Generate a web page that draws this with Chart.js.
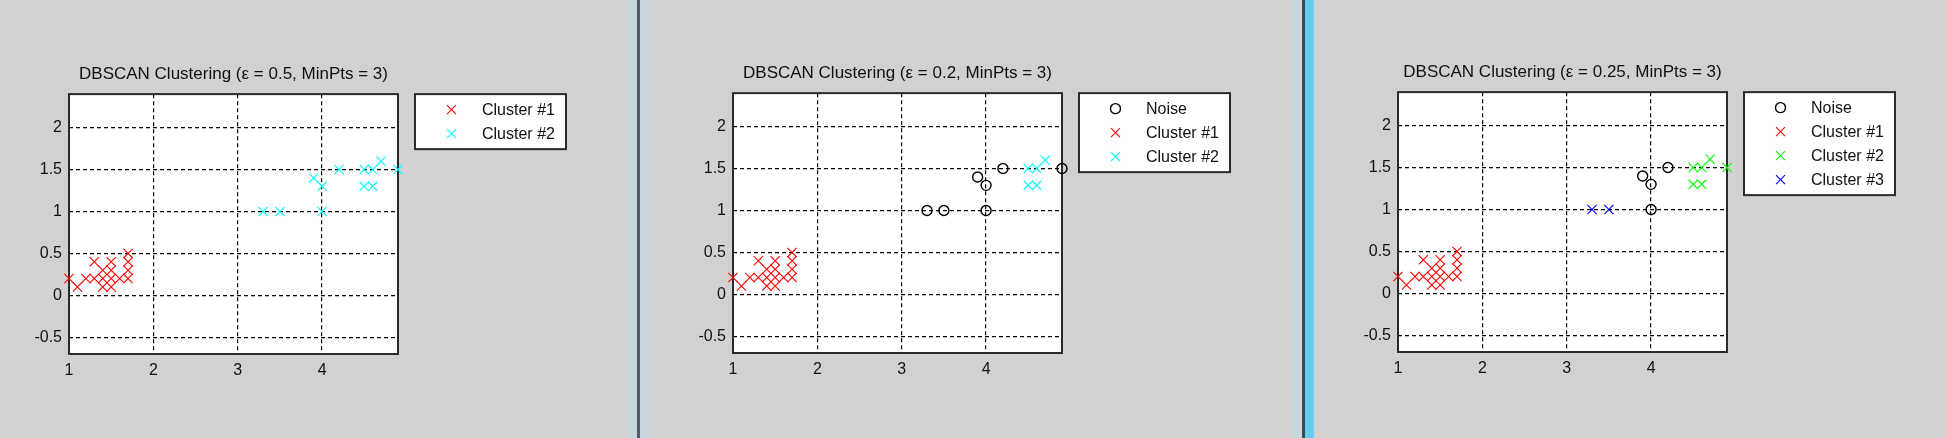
<!DOCTYPE html>
<html>
<head>
<meta charset="utf-8">
<script src="https://cdn.jsdelivr.net/npm/chart.js@4"></script>
<style>
  html, body { margin: 0; padding: 0; background: #d1d1d1; }
  body { width: 1945px; height: 438px; position: relative; overflow: hidden; }
  .panel { position: absolute; top: 0; height: 438px; }
  .sep { position: absolute; top: 0; height: 438px; }
</style>
</head>
<body>
<div class="sep" style="left:628px;width:22px;background:#c6d6dd"></div>
<div class="sep" style="left:637px;width:3px;background:#4d5a60"></div>
<div class="sep" style="left:1293px;width:21px;background:#c6d6dd"></div>
<div class="sep" style="left:1302px;width:3px;background:#3f4a50"></div>
<div class="sep" style="left:1305px;width:9px;background:#66ccf0"></div>

<div class="panel" style="left:0;width:628px"><canvas id="c1" width="628" height="438"></canvas></div>
<div class="panel" style="left:650px;width:643px"><canvas id="c2" width="643" height="438"></canvas></div>
<div class="panel" style="left:1314px;width:631px"><canvas id="c3" width="631" height="438"></canvas></div>

<script>
// axis ticks
const xTicks = [1, 2, 3, 4];
const yTicks = [-0.5, 0, 0.5, 1, 1.5, 2];

// cluster #1 is the same in every run
const c1X = [1.0, 1.1, 1.2, 1.3, 1.3, 1.4, 1.4, 1.4, 1.5, 1.5, 1.5, 1.5, 1.6, 1.7, 1.7, 1.7, 1.7];
const c1Y = [0.2, 0.1, 0.2, 0.4, 0.2, 0.3, 0.2, 0.1, 0.4, 0.3, 0.2, 0.1, 0.2, 0.5, 0.4, 0.3, 0.2];

// eps = 0.5
const p1Cluster2X = [3.3, 3.5, 4.0, 3.9, 4.0, 4.2, 4.5, 4.6, 4.7, 4.9, 4.5, 4.6];
const p1Cluster2Y = [1.0, 1.0, 1.0, 1.4, 1.3, 1.5, 1.5, 1.5, 1.6, 1.5, 1.3, 1.3];

// eps = 0.2
const p2NoiseX = [3.3, 3.5, 4.0, 3.9, 4.0, 4.2, 4.9];
const p2NoiseY = [1.0, 1.0, 1.0, 1.4, 1.3, 1.5, 1.5];
const p2Cluster2X = [4.5, 4.6, 4.7, 4.5, 4.6];
const p2Cluster2Y = [1.5, 1.5, 1.6, 1.3, 1.3];

// eps = 0.25
const p3NoiseX = [3.9, 4.0, 4.0, 4.2];
const p3NoiseY = [1.4, 1.3, 1.0, 1.5];
const p3Cluster2X = [4.5, 4.6, 4.7, 4.5, 4.6, 4.9];
const p3Cluster2Y = [1.5, 1.5, 1.6, 1.3, 1.3, 1.5];
const p3Cluster3X = [3.3, 3.5];
const p3Cluster3Y = [1.0, 1.0];

const epsValues = [0.5, 0.2, 0.25];
const minPts = 3;

const FONT = 'Arial, "Liberation Sans", sans-serif';
const pts = (xs, ys) => xs.map((x, i) => ({ x, y: ys[i] }));

function series(label, xs, ys, color, style) {
  const circle = style === 'circle';
  return {
    label,
    data: pts(xs, ys),
    pointStyle: style,
    radius: circle ? 5 : 6.5,
    borderColor: color,
    backgroundColor: 'transparent',
    borderWidth: circle ? 1.4 : 1.1,
    pointHoverRadius: 0,
    clip: false,
  };
}

// white axes box + frame, and a boxed legend to the right of the axes
const matlabAxes = {
  id: 'matlabAxes',
  beforeDraw(chart) {
    const { ctx, chartArea: a } = chart;
    ctx.save();
    ctx.fillStyle = '#fff';
    ctx.fillRect(a.left, a.top, a.right - a.left, a.bottom - a.top);
    ctx.restore();
  },
  beforeDatasetsDraw(chart) {
    const { ctx, chartArea: a } = chart;
    ctx.save();
    ctx.strokeStyle = '#2a2a2a';
    ctx.lineWidth = 2;
    ctx.strokeRect(a.left, a.top, a.right - a.left, a.bottom - a.top);
    ctx.restore();
  },
  afterDraw(chart) {
    const { ctx, chartArea: a } = chart;
    const sets = chart.data.datasets;
    const left = a.right + 17, top = a.top, w = 151, h = 24 * sets.length + 7;
    ctx.save();
    ctx.fillStyle = '#fff';
    ctx.fillRect(left, top, w, h);
    ctx.strokeStyle = '#2a2a2a';
    ctx.lineWidth = 2;
    ctx.strokeRect(left, top, w, h);
    ctx.font = '16px ' + FONT;
    ctx.textBaseline = 'middle';
    sets.forEach((ds, i) => {
      const cy = top + 15.5 + i * 24, cx = left + 36.5;
      ctx.strokeStyle = ds.borderColor;
      ctx.lineWidth = ds.borderWidth;
      ctx.beginPath();
      if (ds.pointStyle === 'circle') {
        ctx.arc(cx, cy, 5, 0, Math.PI * 2);
      } else {
        ctx.moveTo(cx - 4.5, cy - 4.5); ctx.lineTo(cx + 4.5, cy + 4.5);
        ctx.moveTo(cx + 4.5, cy - 4.5); ctx.lineTo(cx - 4.5, cy + 4.5);
      }
      ctx.stroke();
      ctx.fillStyle = '#111';
      ctx.fillText(ds.label, left + 67, cy + 1);
    });
    ctx.restore();
  }
};

function makeChart(id, eps, datasets, area, W) {
  const H = 438;
  new Chart(document.getElementById(id), {
    type: 'scatter',
    data: { datasets },
    plugins: [matlabAxes],
    options: {
      responsive: false,
      animation: false,
      events: [],
      layout: { padding: { left: area.left - 40, right: W - area.right, top: 0, bottom: H - area.bottom - 30 } },
      plugins: {
        legend: { display: false },
        tooltip: { enabled: false },
        title: {
          display: true,
          fullSize: false,
          text: 'DBSCAN Clustering (\u03b5 = ' + eps + ', MinPts = ' + minPts + ')',
          color: '#111',
          font: { family: FONT, size: 17, weight: 'normal', lineHeight: 1.125 },
          padding: { top: area.top - 29, bottom: 10 },
        },
      },
      scales: {
        x: {
          type: 'linear', min: 1, max: 4.9,
          afterBuildTicks: s => { s.ticks = xTicks.map(v => ({ value: v })); },
          afterFit: s => { s.height = 30; },
          grid: { color: '#000', lineWidth: 1.2, drawTicks: false },
          border: { display: false, dash: [4, 3] },
          ticks: { color: '#111', padding: 7, font: { family: FONT, size: 16 }, callback: v => String(v) },
        },
        y: {
          type: 'linear', min: -0.7, max: 2.4,
          afterBuildTicks: s => { s.ticks = yTicks.map(v => ({ value: v })); },
          afterFit: s => { s.width = 40; },
          grid: { color: '#000', lineWidth: 1.2, drawTicks: false },
          border: { display: false, dash: [4, 3] },
          ticks: { color: '#111', padding: 7, font: { family: FONT, size: 16 }, callback: v => String(v) },
        },
      },
    },
  });
}

makeChart('c1', epsValues[0], [
  series('Cluster #1', c1X, c1Y, '#ff0000', 'crossRot'),
  series('Cluster #2', p1Cluster2X, p1Cluster2Y, '#00ffff', 'crossRot'),
], { left: 69, top: 94, right: 398, bottom: 354 }, 628);

makeChart('c2', epsValues[1], [
  series('Noise', p2NoiseX, p2NoiseY, '#000000', 'circle'),
  series('Cluster #1', c1X, c1Y, '#ff0000', 'crossRot'),
  series('Cluster #2', p2Cluster2X, p2Cluster2Y, '#00ffff', 'crossRot'),
], { left: 83, top: 93, right: 412, bottom: 353 }, 643);

makeChart('c3', epsValues[2], [
  series('Noise', p3NoiseX, p3NoiseY, '#000000', 'circle'),
  series('Cluster #1', c1X, c1Y, '#ff0000', 'crossRot'),
  series('Cluster #2', p3Cluster2X, p3Cluster2Y, '#00ff00', 'crossRot'),
  series('Cluster #3', p3Cluster3X, p3Cluster3Y, '#0000ff', 'crossRot'),
], { left: 84, top: 92, right: 413, bottom: 352 }, 631);
</script>
</body>
</html>
